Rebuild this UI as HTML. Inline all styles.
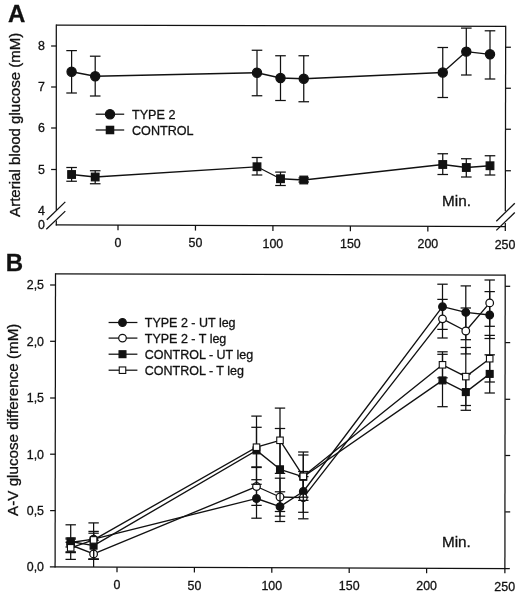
<!DOCTYPE html>
<html><head><meta charset="utf-8"><title>Figure</title>
<style>
html,body{margin:0;padding:0;background:#fff}
svg{display:block;font-family:"Liberation Sans",Arial,Helvetica,sans-serif;fill:#111}
text{stroke:#111;stroke-width:0.3px}
</style></head>
<body>
<svg width="520" height="595" viewBox="0 0 520 595">
<rect x="0" y="0" width="520" height="595" fill="#fff" stroke="none"/>
<line x1="56.20" y1="25.10" x2="505.70" y2="26.40" stroke="#111" stroke-width="1.25" stroke-linecap="butt"/>
<line x1="56.30" y1="24.48" x2="56.30" y2="210.30" stroke="#111" stroke-width="1.25" stroke-linecap="butt"/>
<line x1="56.30" y1="220.60" x2="56.30" y2="225.43" stroke="#111" stroke-width="1.25" stroke-linecap="butt"/>
<line x1="55.80" y1="224.80" x2="505.70" y2="226.70" stroke="#111" stroke-width="1.25" stroke-linecap="butt"/>
<line x1="505.70" y1="25.77" x2="505.30" y2="211.30" stroke="#111" stroke-width="1.25" stroke-linecap="butt"/>
<line x1="505.30" y1="222.90" x2="505.30" y2="231.00" stroke="#111" stroke-width="1.25" stroke-linecap="butt"/>
<line x1="46.80" y1="219.80" x2="65.30" y2="201.90" stroke="#111" stroke-width="1.25" stroke-linecap="butt"/>
<line x1="46.30" y1="229.20" x2="65.30" y2="211.10" stroke="#111" stroke-width="1.25" stroke-linecap="butt"/>
<line x1="496.30" y1="221.20" x2="514.80" y2="203.30" stroke="#111" stroke-width="1.25" stroke-linecap="butt"/>
<line x1="496.30" y1="230.40" x2="514.80" y2="212.50" stroke="#111" stroke-width="1.25" stroke-linecap="butt"/>
<line x1="51.10" y1="46.00" x2="56.30" y2="46.00" stroke="#111" stroke-width="1.25" stroke-linecap="butt"/>
<line x1="505.70" y1="47.25" x2="510.90" y2="47.25" stroke="#111" stroke-width="1.25" stroke-linecap="butt"/>
<text x="44.90" y="50.30" font-size="12.4" text-anchor="end" font-weight="normal" >8</text>
<line x1="51.10" y1="87.00" x2="56.30" y2="87.00" stroke="#111" stroke-width="1.25" stroke-linecap="butt"/>
<line x1="505.70" y1="88.25" x2="510.90" y2="88.25" stroke="#111" stroke-width="1.25" stroke-linecap="butt"/>
<text x="44.90" y="91.30" font-size="12.4" text-anchor="end" font-weight="normal" >7</text>
<line x1="51.10" y1="128.00" x2="56.30" y2="128.00" stroke="#111" stroke-width="1.25" stroke-linecap="butt"/>
<line x1="505.70" y1="129.25" x2="510.90" y2="129.25" stroke="#111" stroke-width="1.25" stroke-linecap="butt"/>
<text x="44.90" y="132.30" font-size="12.4" text-anchor="end" font-weight="normal" >6</text>
<line x1="51.10" y1="169.50" x2="56.30" y2="169.50" stroke="#111" stroke-width="1.25" stroke-linecap="butt"/>
<line x1="505.70" y1="170.75" x2="510.90" y2="170.75" stroke="#111" stroke-width="1.25" stroke-linecap="butt"/>
<text x="44.90" y="173.80" font-size="12.4" text-anchor="end" font-weight="normal" >5</text>
<text x="44.90" y="214.90" font-size="12.4" text-anchor="end" font-weight="normal" >4</text>
<text x="44.90" y="228.90" font-size="12.4" text-anchor="end" font-weight="normal" >0</text>
<line x1="118.00" y1="225.06" x2="118.00" y2="230.26" stroke="#111" stroke-width="1.25" stroke-linecap="butt"/>
<text x="118.00" y="247.16" font-size="12.4" text-anchor="middle" font-weight="normal" >0</text>
<line x1="195.46" y1="225.39" x2="195.46" y2="230.59" stroke="#111" stroke-width="1.25" stroke-linecap="butt"/>
<text x="195.46" y="247.49" font-size="12.4" text-anchor="middle" font-weight="normal" >50</text>
<line x1="272.92" y1="225.72" x2="272.92" y2="230.92" stroke="#111" stroke-width="1.25" stroke-linecap="butt"/>
<text x="272.92" y="247.82" font-size="12.4" text-anchor="middle" font-weight="normal" >100</text>
<line x1="350.38" y1="226.04" x2="350.38" y2="231.24" stroke="#111" stroke-width="1.25" stroke-linecap="butt"/>
<text x="350.38" y="248.14" font-size="12.4" text-anchor="middle" font-weight="normal" >150</text>
<line x1="427.84" y1="226.37" x2="427.84" y2="231.57" stroke="#111" stroke-width="1.25" stroke-linecap="butt"/>
<text x="427.84" y="248.47" font-size="12.4" text-anchor="middle" font-weight="normal" >200</text>
<text x="505.00" y="248.80" font-size="12.4" text-anchor="middle" font-weight="normal" >250</text>
<line x1="71.60" y1="50.60" x2="71.60" y2="93.00" stroke="#111" stroke-width="1.25" stroke-linecap="butt"/>
<line x1="66.30" y1="50.60" x2="76.90" y2="50.60" stroke="#111" stroke-width="1.25" stroke-linecap="butt"/>
<line x1="66.30" y1="93.00" x2="76.90" y2="93.00" stroke="#111" stroke-width="1.25" stroke-linecap="butt"/>
<line x1="95.20" y1="56.20" x2="95.20" y2="96.00" stroke="#111" stroke-width="1.25" stroke-linecap="butt"/>
<line x1="89.90" y1="56.20" x2="100.50" y2="56.20" stroke="#111" stroke-width="1.25" stroke-linecap="butt"/>
<line x1="89.90" y1="96.00" x2="100.50" y2="96.00" stroke="#111" stroke-width="1.25" stroke-linecap="butt"/>
<line x1="257.00" y1="50.25" x2="257.00" y2="95.75" stroke="#111" stroke-width="1.25" stroke-linecap="butt"/>
<line x1="251.70" y1="50.25" x2="262.30" y2="50.25" stroke="#111" stroke-width="1.25" stroke-linecap="butt"/>
<line x1="251.70" y1="95.75" x2="262.30" y2="95.75" stroke="#111" stroke-width="1.25" stroke-linecap="butt"/>
<line x1="280.50" y1="55.75" x2="280.50" y2="100.50" stroke="#111" stroke-width="1.25" stroke-linecap="butt"/>
<line x1="275.20" y1="55.75" x2="285.80" y2="55.75" stroke="#111" stroke-width="1.25" stroke-linecap="butt"/>
<line x1="275.20" y1="100.50" x2="285.80" y2="100.50" stroke="#111" stroke-width="1.25" stroke-linecap="butt"/>
<line x1="303.75" y1="55.75" x2="303.75" y2="101.75" stroke="#111" stroke-width="1.25" stroke-linecap="butt"/>
<line x1="298.45" y1="55.75" x2="309.05" y2="55.75" stroke="#111" stroke-width="1.25" stroke-linecap="butt"/>
<line x1="298.45" y1="101.75" x2="309.05" y2="101.75" stroke="#111" stroke-width="1.25" stroke-linecap="butt"/>
<line x1="442.75" y1="47.50" x2="442.75" y2="97.50" stroke="#111" stroke-width="1.25" stroke-linecap="butt"/>
<line x1="437.45" y1="47.50" x2="448.05" y2="47.50" stroke="#111" stroke-width="1.25" stroke-linecap="butt"/>
<line x1="437.45" y1="97.50" x2="448.05" y2="97.50" stroke="#111" stroke-width="1.25" stroke-linecap="butt"/>
<line x1="466.30" y1="28.10" x2="466.30" y2="75.00" stroke="#111" stroke-width="1.25" stroke-linecap="butt"/>
<line x1="461.00" y1="28.10" x2="471.60" y2="28.10" stroke="#111" stroke-width="1.25" stroke-linecap="butt"/>
<line x1="461.00" y1="75.00" x2="471.60" y2="75.00" stroke="#111" stroke-width="1.25" stroke-linecap="butt"/>
<line x1="490.00" y1="30.80" x2="490.00" y2="79.00" stroke="#111" stroke-width="1.25" stroke-linecap="butt"/>
<line x1="484.70" y1="30.80" x2="495.30" y2="30.80" stroke="#111" stroke-width="1.25" stroke-linecap="butt"/>
<line x1="484.70" y1="79.00" x2="495.30" y2="79.00" stroke="#111" stroke-width="1.25" stroke-linecap="butt"/>
<polyline points="71.60,71.75 95.20,76.25 257.00,72.75 280.50,78.00 303.75,78.75 442.75,72.50 466.30,51.60 490.00,54.30" fill="none" stroke="#111" stroke-width="1.35" stroke-linejoin="round"/>
<circle cx="71.60" cy="71.75" r="4.6" fill="#111" stroke="#111" stroke-width="1.25"/>
<circle cx="95.20" cy="76.25" r="4.6" fill="#111" stroke="#111" stroke-width="1.25"/>
<circle cx="257.00" cy="72.75" r="4.6" fill="#111" stroke="#111" stroke-width="1.25"/>
<circle cx="280.50" cy="78.00" r="4.6" fill="#111" stroke="#111" stroke-width="1.25"/>
<circle cx="303.75" cy="78.75" r="4.6" fill="#111" stroke="#111" stroke-width="1.25"/>
<circle cx="442.75" cy="72.50" r="4.6" fill="#111" stroke="#111" stroke-width="1.25"/>
<circle cx="466.30" cy="51.60" r="4.6" fill="#111" stroke="#111" stroke-width="1.25"/>
<circle cx="490.00" cy="54.30" r="4.6" fill="#111" stroke="#111" stroke-width="1.25"/>
<line x1="71.60" y1="167.50" x2="71.60" y2="181.25" stroke="#111" stroke-width="1.25" stroke-linecap="butt"/>
<line x1="66.30" y1="167.50" x2="76.90" y2="167.50" stroke="#111" stroke-width="1.25" stroke-linecap="butt"/>
<line x1="66.30" y1="181.25" x2="76.90" y2="181.25" stroke="#111" stroke-width="1.25" stroke-linecap="butt"/>
<line x1="95.20" y1="170.75" x2="95.20" y2="183.75" stroke="#111" stroke-width="1.25" stroke-linecap="butt"/>
<line x1="89.90" y1="170.75" x2="100.50" y2="170.75" stroke="#111" stroke-width="1.25" stroke-linecap="butt"/>
<line x1="89.90" y1="183.75" x2="100.50" y2="183.75" stroke="#111" stroke-width="1.25" stroke-linecap="butt"/>
<line x1="257.00" y1="157.50" x2="257.00" y2="175.00" stroke="#111" stroke-width="1.25" stroke-linecap="butt"/>
<line x1="251.70" y1="157.50" x2="262.30" y2="157.50" stroke="#111" stroke-width="1.25" stroke-linecap="butt"/>
<line x1="251.70" y1="175.00" x2="262.30" y2="175.00" stroke="#111" stroke-width="1.25" stroke-linecap="butt"/>
<line x1="280.50" y1="172.10" x2="280.50" y2="185.50" stroke="#111" stroke-width="1.25" stroke-linecap="butt"/>
<line x1="275.20" y1="172.10" x2="285.80" y2="172.10" stroke="#111" stroke-width="1.25" stroke-linecap="butt"/>
<line x1="275.20" y1="185.50" x2="285.80" y2="185.50" stroke="#111" stroke-width="1.25" stroke-linecap="butt"/>
<line x1="303.75" y1="178.00" x2="303.75" y2="182.00" stroke="#111" stroke-width="1.25" stroke-linecap="butt"/>
<line x1="298.45" y1="178.00" x2="309.05" y2="178.00" stroke="#111" stroke-width="1.25" stroke-linecap="butt"/>
<line x1="298.45" y1="182.00" x2="309.05" y2="182.00" stroke="#111" stroke-width="1.25" stroke-linecap="butt"/>
<line x1="442.75" y1="153.75" x2="442.75" y2="174.50" stroke="#111" stroke-width="1.25" stroke-linecap="butt"/>
<line x1="437.45" y1="153.75" x2="448.05" y2="153.75" stroke="#111" stroke-width="1.25" stroke-linecap="butt"/>
<line x1="437.45" y1="174.50" x2="448.05" y2="174.50" stroke="#111" stroke-width="1.25" stroke-linecap="butt"/>
<line x1="466.30" y1="158.75" x2="466.30" y2="177.00" stroke="#111" stroke-width="1.25" stroke-linecap="butt"/>
<line x1="461.00" y1="158.75" x2="471.60" y2="158.75" stroke="#111" stroke-width="1.25" stroke-linecap="butt"/>
<line x1="461.00" y1="177.00" x2="471.60" y2="177.00" stroke="#111" stroke-width="1.25" stroke-linecap="butt"/>
<line x1="490.00" y1="155.75" x2="490.00" y2="175.00" stroke="#111" stroke-width="1.25" stroke-linecap="butt"/>
<line x1="484.70" y1="155.75" x2="495.30" y2="155.75" stroke="#111" stroke-width="1.25" stroke-linecap="butt"/>
<line x1="484.70" y1="175.00" x2="495.30" y2="175.00" stroke="#111" stroke-width="1.25" stroke-linecap="butt"/>
<polyline points="71.60,174.50 95.20,177.00 257.00,166.75 280.50,178.75 303.75,180.00 442.75,164.50 466.30,167.50 490.00,165.75" fill="none" stroke="#111" stroke-width="1.35" stroke-linejoin="round"/>
<rect x="67.80" y="170.70" width="7.6" height="7.6" fill="#111" stroke="#111" stroke-width="1.25"/>
<rect x="91.40" y="173.20" width="7.6" height="7.6" fill="#111" stroke="#111" stroke-width="1.25"/>
<rect x="253.20" y="162.95" width="7.6" height="7.6" fill="#111" stroke="#111" stroke-width="1.25"/>
<rect x="276.70" y="174.95" width="7.6" height="7.6" fill="#111" stroke="#111" stroke-width="1.25"/>
<rect x="299.95" y="176.20" width="7.6" height="7.6" fill="#111" stroke="#111" stroke-width="1.25"/>
<rect x="438.95" y="160.70" width="7.6" height="7.6" fill="#111" stroke="#111" stroke-width="1.25"/>
<rect x="462.50" y="163.70" width="7.6" height="7.6" fill="#111" stroke="#111" stroke-width="1.25"/>
<rect x="486.20" y="161.95" width="7.6" height="7.6" fill="#111" stroke="#111" stroke-width="1.25"/>
<line x1="95.70" y1="114.20" x2="124.20" y2="114.20" stroke="#111" stroke-width="1.25" stroke-linecap="butt"/>
<circle cx="110.00" cy="114.20" r="4.6" fill="#111" stroke="#111" stroke-width="1.25"/>
<line x1="95.70" y1="130.00" x2="124.20" y2="130.00" stroke="#111" stroke-width="1.25" stroke-linecap="butt"/>
<rect x="106.35" y="126.35" width="7.3" height="7.3" fill="#111" stroke="#111" stroke-width="1.25"/>
<text x="132.00" y="118.80" font-size="12.6" text-anchor="start" font-weight="normal" >TYPE 2</text>
<text x="132.00" y="134.60" font-size="12.6" text-anchor="start" font-weight="normal" >CONTROL</text>
<text x="442.00" y="206.30" font-size="15.3" text-anchor="start" font-weight="normal" >Min.</text>
<text x="8.00" y="21.60" font-size="24" text-anchor="start" font-weight="bold" >A</text>
<text transform="translate(19.9,216.9) rotate(-90)" font-size="15.2" textLength="184.3" lengthAdjust="spacingAndGlyphs">Arterial blood glucose (mM)</text>
<line x1="55.40" y1="273.80" x2="505.20" y2="275.20" stroke="#111" stroke-width="1.25" stroke-linecap="butt"/>
<line x1="55.50" y1="273.18" x2="55.10" y2="567.62" stroke="#111" stroke-width="1.25" stroke-linecap="butt"/>
<line x1="49.90" y1="566.95" x2="509.80" y2="568.50" stroke="#111" stroke-width="1.25" stroke-linecap="butt"/>
<line x1="505.20" y1="274.57" x2="504.90" y2="573.30" stroke="#111" stroke-width="1.25" stroke-linecap="butt"/>
<line x1="50.10" y1="285.00" x2="55.50" y2="285.00" stroke="#111" stroke-width="1.25" stroke-linecap="butt"/>
<line x1="505.20" y1="286.30" x2="510.20" y2="286.30" stroke="#111" stroke-width="1.25" stroke-linecap="butt"/>
<text x="44.00" y="289.30" font-size="12.4" text-anchor="end" font-weight="normal" >2,5</text>
<line x1="50.10" y1="341.30" x2="55.50" y2="341.30" stroke="#111" stroke-width="1.25" stroke-linecap="butt"/>
<line x1="505.20" y1="342.60" x2="510.20" y2="342.60" stroke="#111" stroke-width="1.25" stroke-linecap="butt"/>
<text x="44.00" y="345.60" font-size="12.4" text-anchor="end" font-weight="normal" >2,0</text>
<line x1="50.10" y1="398.00" x2="55.50" y2="398.00" stroke="#111" stroke-width="1.25" stroke-linecap="butt"/>
<line x1="505.20" y1="399.30" x2="510.20" y2="399.30" stroke="#111" stroke-width="1.25" stroke-linecap="butt"/>
<text x="44.00" y="402.30" font-size="12.4" text-anchor="end" font-weight="normal" >1,5</text>
<line x1="50.10" y1="454.20" x2="55.50" y2="454.20" stroke="#111" stroke-width="1.25" stroke-linecap="butt"/>
<line x1="505.20" y1="455.50" x2="510.20" y2="455.50" stroke="#111" stroke-width="1.25" stroke-linecap="butt"/>
<text x="44.00" y="458.50" font-size="12.4" text-anchor="end" font-weight="normal" >1,0</text>
<line x1="50.10" y1="510.60" x2="55.50" y2="510.60" stroke="#111" stroke-width="1.25" stroke-linecap="butt"/>
<line x1="505.20" y1="511.90" x2="510.20" y2="511.90" stroke="#111" stroke-width="1.25" stroke-linecap="butt"/>
<text x="44.00" y="514.90" font-size="12.4" text-anchor="end" font-weight="normal" >0,5</text>
<text x="44.00" y="571.30" font-size="12.4" text-anchor="end" font-weight="normal" >0,0</text>
<line x1="117.00" y1="567.21" x2="117.00" y2="572.21" stroke="#111" stroke-width="1.25" stroke-linecap="butt"/>
<text x="117.00" y="589.41" font-size="12.4" text-anchor="middle" font-weight="normal" >0</text>
<line x1="194.40" y1="567.46" x2="194.40" y2="572.46" stroke="#111" stroke-width="1.25" stroke-linecap="butt"/>
<text x="194.40" y="589.66" font-size="12.4" text-anchor="middle" font-weight="normal" >50</text>
<line x1="271.80" y1="567.72" x2="271.80" y2="572.72" stroke="#111" stroke-width="1.25" stroke-linecap="butt"/>
<text x="271.80" y="589.92" font-size="12.4" text-anchor="middle" font-weight="normal" >100</text>
<line x1="349.20" y1="567.98" x2="349.20" y2="572.98" stroke="#111" stroke-width="1.25" stroke-linecap="butt"/>
<text x="349.20" y="590.18" font-size="12.4" text-anchor="middle" font-weight="normal" >150</text>
<line x1="426.60" y1="568.24" x2="426.60" y2="573.24" stroke="#111" stroke-width="1.25" stroke-linecap="butt"/>
<text x="426.60" y="590.44" font-size="12.4" text-anchor="middle" font-weight="normal" >200</text>
<text x="504.70" y="590.80" font-size="12.4" text-anchor="middle" font-weight="normal" >250</text>
<line x1="70.70" y1="538.00" x2="70.70" y2="547.00" stroke="#111" stroke-width="1.25" stroke-linecap="butt"/>
<line x1="65.50" y1="538.00" x2="75.90" y2="538.00" stroke="#111" stroke-width="1.25" stroke-linecap="butt"/>
<line x1="65.50" y1="547.00" x2="75.90" y2="547.00" stroke="#111" stroke-width="1.25" stroke-linecap="butt"/>
<line x1="93.60" y1="531.40" x2="93.60" y2="559.20" stroke="#111" stroke-width="1.25" stroke-linecap="butt"/>
<line x1="88.40" y1="531.40" x2="98.80" y2="531.40" stroke="#111" stroke-width="1.25" stroke-linecap="butt"/>
<line x1="88.40" y1="559.20" x2="98.80" y2="559.20" stroke="#111" stroke-width="1.25" stroke-linecap="butt"/>
<line x1="256.50" y1="479.70" x2="256.50" y2="518.20" stroke="#111" stroke-width="1.25" stroke-linecap="butt"/>
<line x1="251.30" y1="479.70" x2="261.70" y2="479.70" stroke="#111" stroke-width="1.25" stroke-linecap="butt"/>
<line x1="251.30" y1="518.20" x2="261.70" y2="518.20" stroke="#111" stroke-width="1.25" stroke-linecap="butt"/>
<line x1="280.00" y1="491.80" x2="280.00" y2="521.50" stroke="#111" stroke-width="1.25" stroke-linecap="butt"/>
<line x1="274.80" y1="491.80" x2="285.20" y2="491.80" stroke="#111" stroke-width="1.25" stroke-linecap="butt"/>
<line x1="274.80" y1="521.50" x2="285.20" y2="521.50" stroke="#111" stroke-width="1.25" stroke-linecap="butt"/>
<line x1="303.30" y1="471.50" x2="303.30" y2="512.30" stroke="#111" stroke-width="1.25" stroke-linecap="butt"/>
<line x1="298.10" y1="471.50" x2="308.50" y2="471.50" stroke="#111" stroke-width="1.25" stroke-linecap="butt"/>
<line x1="298.10" y1="512.30" x2="308.50" y2="512.30" stroke="#111" stroke-width="1.25" stroke-linecap="butt"/>
<line x1="442.50" y1="284.20" x2="442.50" y2="329.40" stroke="#111" stroke-width="1.25" stroke-linecap="butt"/>
<line x1="437.30" y1="284.20" x2="447.70" y2="284.20" stroke="#111" stroke-width="1.25" stroke-linecap="butt"/>
<line x1="437.30" y1="329.40" x2="447.70" y2="329.40" stroke="#111" stroke-width="1.25" stroke-linecap="butt"/>
<line x1="465.80" y1="285.90" x2="465.80" y2="339.70" stroke="#111" stroke-width="1.25" stroke-linecap="butt"/>
<line x1="460.60" y1="285.90" x2="471.00" y2="285.90" stroke="#111" stroke-width="1.25" stroke-linecap="butt"/>
<line x1="460.60" y1="339.70" x2="471.00" y2="339.70" stroke="#111" stroke-width="1.25" stroke-linecap="butt"/>
<line x1="489.70" y1="291.60" x2="489.70" y2="338.50" stroke="#111" stroke-width="1.25" stroke-linecap="butt"/>
<line x1="484.50" y1="291.60" x2="494.90" y2="291.60" stroke="#111" stroke-width="1.25" stroke-linecap="butt"/>
<line x1="484.50" y1="338.50" x2="494.90" y2="338.50" stroke="#111" stroke-width="1.25" stroke-linecap="butt"/>
<polyline points="70.70,542.50 93.60,539.20 256.50,498.50 280.00,506.60 303.30,491.50 442.50,306.70 465.80,312.40 489.70,315.00" fill="none" stroke="#111" stroke-width="1.35" stroke-linejoin="round"/>
<circle cx="70.70" cy="542.50" r="3.8" fill="#111" stroke="#111" stroke-width="1.25"/>
<circle cx="93.60" cy="539.20" r="3.8" fill="#111" stroke="#111" stroke-width="1.25"/>
<circle cx="256.50" cy="498.50" r="3.8" fill="#111" stroke="#111" stroke-width="1.25"/>
<circle cx="280.00" cy="506.60" r="3.8" fill="#111" stroke="#111" stroke-width="1.25"/>
<circle cx="303.30" cy="491.50" r="3.8" fill="#111" stroke="#111" stroke-width="1.25"/>
<circle cx="442.50" cy="306.70" r="3.8" fill="#111" stroke="#111" stroke-width="1.25"/>
<circle cx="465.80" cy="312.40" r="3.8" fill="#111" stroke="#111" stroke-width="1.25"/>
<circle cx="489.70" cy="315.00" r="3.8" fill="#111" stroke="#111" stroke-width="1.25"/>
<line x1="70.70" y1="539.10" x2="70.70" y2="551.80" stroke="#111" stroke-width="1.25" stroke-linecap="butt"/>
<line x1="65.50" y1="539.10" x2="75.90" y2="539.10" stroke="#111" stroke-width="1.25" stroke-linecap="butt"/>
<line x1="65.50" y1="551.80" x2="75.90" y2="551.80" stroke="#111" stroke-width="1.25" stroke-linecap="butt"/>
<line x1="93.60" y1="540.20" x2="93.60" y2="567.00" stroke="#111" stroke-width="1.25" stroke-linecap="butt"/>
<line x1="88.40" y1="540.20" x2="98.80" y2="540.20" stroke="#111" stroke-width="1.25" stroke-linecap="butt"/>
<line x1="256.50" y1="467.50" x2="256.50" y2="505.40" stroke="#111" stroke-width="1.25" stroke-linecap="butt"/>
<line x1="251.30" y1="467.50" x2="261.70" y2="467.50" stroke="#111" stroke-width="1.25" stroke-linecap="butt"/>
<line x1="251.30" y1="505.40" x2="261.70" y2="505.40" stroke="#111" stroke-width="1.25" stroke-linecap="butt"/>
<line x1="280.00" y1="478.20" x2="280.00" y2="516.20" stroke="#111" stroke-width="1.25" stroke-linecap="butt"/>
<line x1="274.80" y1="478.20" x2="285.20" y2="478.20" stroke="#111" stroke-width="1.25" stroke-linecap="butt"/>
<line x1="274.80" y1="516.20" x2="285.20" y2="516.20" stroke="#111" stroke-width="1.25" stroke-linecap="butt"/>
<line x1="303.30" y1="476.60" x2="303.30" y2="518.80" stroke="#111" stroke-width="1.25" stroke-linecap="butt"/>
<line x1="298.10" y1="476.60" x2="308.50" y2="476.60" stroke="#111" stroke-width="1.25" stroke-linecap="butt"/>
<line x1="298.10" y1="518.80" x2="308.50" y2="518.80" stroke="#111" stroke-width="1.25" stroke-linecap="butt"/>
<line x1="442.50" y1="299.40" x2="442.50" y2="338.00" stroke="#111" stroke-width="1.25" stroke-linecap="butt"/>
<line x1="437.30" y1="299.40" x2="447.70" y2="299.40" stroke="#111" stroke-width="1.25" stroke-linecap="butt"/>
<line x1="437.30" y1="338.00" x2="447.70" y2="338.00" stroke="#111" stroke-width="1.25" stroke-linecap="butt"/>
<line x1="465.80" y1="308.00" x2="465.80" y2="353.90" stroke="#111" stroke-width="1.25" stroke-linecap="butt"/>
<line x1="460.60" y1="308.00" x2="471.00" y2="308.00" stroke="#111" stroke-width="1.25" stroke-linecap="butt"/>
<line x1="460.60" y1="353.90" x2="471.00" y2="353.90" stroke="#111" stroke-width="1.25" stroke-linecap="butt"/>
<line x1="489.70" y1="280.00" x2="489.70" y2="326.30" stroke="#111" stroke-width="1.25" stroke-linecap="butt"/>
<line x1="484.50" y1="280.00" x2="494.90" y2="280.00" stroke="#111" stroke-width="1.25" stroke-linecap="butt"/>
<line x1="484.50" y1="326.30" x2="494.90" y2="326.30" stroke="#111" stroke-width="1.25" stroke-linecap="butt"/>
<polyline points="70.70,545.00 93.60,553.90 256.50,486.50 280.00,497.00 303.30,497.70 442.50,318.80 465.80,331.00 489.70,302.90" fill="none" stroke="#111" stroke-width="1.35" stroke-linejoin="round"/>
<circle cx="70.70" cy="545.00" r="3.8" fill="#fff" stroke="#111" stroke-width="1.25"/>
<circle cx="93.60" cy="553.90" r="3.8" fill="#fff" stroke="#111" stroke-width="1.25"/>
<circle cx="256.50" cy="486.50" r="3.8" fill="#fff" stroke="#111" stroke-width="1.25"/>
<circle cx="280.00" cy="497.00" r="3.8" fill="#fff" stroke="#111" stroke-width="1.25"/>
<circle cx="303.30" cy="497.70" r="3.8" fill="#fff" stroke="#111" stroke-width="1.25"/>
<circle cx="442.50" cy="318.80" r="3.8" fill="#fff" stroke="#111" stroke-width="1.25"/>
<circle cx="465.80" cy="331.00" r="3.8" fill="#fff" stroke="#111" stroke-width="1.25"/>
<circle cx="489.70" cy="302.90" r="3.8" fill="#fff" stroke="#111" stroke-width="1.25"/>
<line x1="70.70" y1="524.80" x2="70.70" y2="559.40" stroke="#111" stroke-width="1.25" stroke-linecap="butt"/>
<line x1="65.50" y1="524.80" x2="75.90" y2="524.80" stroke="#111" stroke-width="1.25" stroke-linecap="butt"/>
<line x1="65.50" y1="559.40" x2="75.90" y2="559.40" stroke="#111" stroke-width="1.25" stroke-linecap="butt"/>
<line x1="93.60" y1="533.20" x2="93.60" y2="559.20" stroke="#111" stroke-width="1.25" stroke-linecap="butt"/>
<line x1="88.40" y1="533.20" x2="98.80" y2="533.20" stroke="#111" stroke-width="1.25" stroke-linecap="butt"/>
<line x1="88.40" y1="559.20" x2="98.80" y2="559.20" stroke="#111" stroke-width="1.25" stroke-linecap="butt"/>
<line x1="256.50" y1="416.10" x2="256.50" y2="484.30" stroke="#111" stroke-width="1.25" stroke-linecap="butt"/>
<line x1="251.30" y1="416.10" x2="261.70" y2="416.10" stroke="#111" stroke-width="1.25" stroke-linecap="butt"/>
<line x1="251.30" y1="484.30" x2="261.70" y2="484.30" stroke="#111" stroke-width="1.25" stroke-linecap="butt"/>
<line x1="280.00" y1="428.50" x2="280.00" y2="511.50" stroke="#111" stroke-width="1.25" stroke-linecap="butt"/>
<line x1="274.80" y1="428.50" x2="285.20" y2="428.50" stroke="#111" stroke-width="1.25" stroke-linecap="butt"/>
<line x1="274.80" y1="511.50" x2="285.20" y2="511.50" stroke="#111" stroke-width="1.25" stroke-linecap="butt"/>
<line x1="303.30" y1="455.00" x2="303.30" y2="497.20" stroke="#111" stroke-width="1.25" stroke-linecap="butt"/>
<line x1="298.10" y1="455.00" x2="308.50" y2="455.00" stroke="#111" stroke-width="1.25" stroke-linecap="butt"/>
<line x1="298.10" y1="497.20" x2="308.50" y2="497.20" stroke="#111" stroke-width="1.25" stroke-linecap="butt"/>
<line x1="442.50" y1="354.30" x2="442.50" y2="406.70" stroke="#111" stroke-width="1.25" stroke-linecap="butt"/>
<line x1="437.30" y1="354.30" x2="447.70" y2="354.30" stroke="#111" stroke-width="1.25" stroke-linecap="butt"/>
<line x1="437.30" y1="406.70" x2="447.70" y2="406.70" stroke="#111" stroke-width="1.25" stroke-linecap="butt"/>
<line x1="465.80" y1="373.90" x2="465.80" y2="410.30" stroke="#111" stroke-width="1.25" stroke-linecap="butt"/>
<line x1="460.60" y1="373.90" x2="471.00" y2="373.90" stroke="#111" stroke-width="1.25" stroke-linecap="butt"/>
<line x1="460.60" y1="410.30" x2="471.00" y2="410.30" stroke="#111" stroke-width="1.25" stroke-linecap="butt"/>
<line x1="489.70" y1="354.80" x2="489.70" y2="393.00" stroke="#111" stroke-width="1.25" stroke-linecap="butt"/>
<line x1="484.50" y1="354.80" x2="494.90" y2="354.80" stroke="#111" stroke-width="1.25" stroke-linecap="butt"/>
<line x1="484.50" y1="393.00" x2="494.90" y2="393.00" stroke="#111" stroke-width="1.25" stroke-linecap="butt"/>
<polyline points="70.70,541.50 93.60,545.70 256.50,450.40 280.00,469.30 303.30,476.80 442.50,380.40 465.80,392.10 489.70,373.90" fill="none" stroke="#111" stroke-width="1.35" stroke-linejoin="round"/>
<rect x="67.30" y="538.10" width="6.8" height="6.8" fill="#111" stroke="#111" stroke-width="1.25"/>
<rect x="90.20" y="542.30" width="6.8" height="6.8" fill="#111" stroke="#111" stroke-width="1.25"/>
<rect x="253.10" y="447.00" width="6.8" height="6.8" fill="#111" stroke="#111" stroke-width="1.25"/>
<rect x="276.60" y="465.90" width="6.8" height="6.8" fill="#111" stroke="#111" stroke-width="1.25"/>
<rect x="299.90" y="473.40" width="6.8" height="6.8" fill="#111" stroke="#111" stroke-width="1.25"/>
<rect x="439.10" y="377.00" width="6.8" height="6.8" fill="#111" stroke="#111" stroke-width="1.25"/>
<rect x="462.40" y="388.70" width="6.8" height="6.8" fill="#111" stroke="#111" stroke-width="1.25"/>
<rect x="486.30" y="370.50" width="6.8" height="6.8" fill="#111" stroke="#111" stroke-width="1.25"/>
<line x1="70.70" y1="542.30" x2="70.70" y2="552.60" stroke="#111" stroke-width="1.25" stroke-linecap="butt"/>
<line x1="65.50" y1="542.30" x2="75.90" y2="542.30" stroke="#111" stroke-width="1.25" stroke-linecap="butt"/>
<line x1="65.50" y1="552.60" x2="75.90" y2="552.60" stroke="#111" stroke-width="1.25" stroke-linecap="butt"/>
<line x1="93.60" y1="522.90" x2="93.60" y2="559.20" stroke="#111" stroke-width="1.25" stroke-linecap="butt"/>
<line x1="88.40" y1="522.90" x2="98.80" y2="522.90" stroke="#111" stroke-width="1.25" stroke-linecap="butt"/>
<line x1="88.40" y1="559.20" x2="98.80" y2="559.20" stroke="#111" stroke-width="1.25" stroke-linecap="butt"/>
<line x1="256.50" y1="427.30" x2="256.50" y2="466.90" stroke="#111" stroke-width="1.25" stroke-linecap="butt"/>
<line x1="251.30" y1="427.30" x2="261.70" y2="427.30" stroke="#111" stroke-width="1.25" stroke-linecap="butt"/>
<line x1="251.30" y1="466.90" x2="261.70" y2="466.90" stroke="#111" stroke-width="1.25" stroke-linecap="butt"/>
<line x1="280.00" y1="408.10" x2="280.00" y2="473.40" stroke="#111" stroke-width="1.25" stroke-linecap="butt"/>
<line x1="274.80" y1="408.10" x2="285.20" y2="408.10" stroke="#111" stroke-width="1.25" stroke-linecap="butt"/>
<line x1="274.80" y1="473.40" x2="285.20" y2="473.40" stroke="#111" stroke-width="1.25" stroke-linecap="butt"/>
<line x1="303.30" y1="452.00" x2="303.30" y2="500.40" stroke="#111" stroke-width="1.25" stroke-linecap="butt"/>
<line x1="298.10" y1="452.00" x2="308.50" y2="452.00" stroke="#111" stroke-width="1.25" stroke-linecap="butt"/>
<line x1="298.10" y1="500.40" x2="308.50" y2="500.40" stroke="#111" stroke-width="1.25" stroke-linecap="butt"/>
<line x1="442.50" y1="351.80" x2="442.50" y2="377.80" stroke="#111" stroke-width="1.25" stroke-linecap="butt"/>
<line x1="437.30" y1="351.80" x2="447.70" y2="351.80" stroke="#111" stroke-width="1.25" stroke-linecap="butt"/>
<line x1="437.30" y1="377.80" x2="447.70" y2="377.80" stroke="#111" stroke-width="1.25" stroke-linecap="butt"/>
<line x1="465.80" y1="347.50" x2="465.80" y2="405.50" stroke="#111" stroke-width="1.25" stroke-linecap="butt"/>
<line x1="460.60" y1="347.50" x2="471.00" y2="347.50" stroke="#111" stroke-width="1.25" stroke-linecap="butt"/>
<line x1="460.60" y1="405.50" x2="471.00" y2="405.50" stroke="#111" stroke-width="1.25" stroke-linecap="butt"/>
<line x1="489.70" y1="335.40" x2="489.70" y2="382.00" stroke="#111" stroke-width="1.25" stroke-linecap="butt"/>
<line x1="484.50" y1="335.40" x2="494.90" y2="335.40" stroke="#111" stroke-width="1.25" stroke-linecap="butt"/>
<line x1="484.50" y1="382.00" x2="494.90" y2="382.00" stroke="#111" stroke-width="1.25" stroke-linecap="butt"/>
<polyline points="70.70,547.80 93.60,539.90 256.50,447.20 280.00,440.30 303.30,476.30 442.50,364.80 465.80,376.60 489.70,358.70" fill="none" stroke="#111" stroke-width="1.35" stroke-linejoin="round"/>
<rect x="67.45" y="544.55" width="6.5" height="6.5" fill="#fff" stroke="#111" stroke-width="1.1"/>
<rect x="90.35" y="536.65" width="6.5" height="6.5" fill="#fff" stroke="#111" stroke-width="1.1"/>
<rect x="253.25" y="443.95" width="6.5" height="6.5" fill="#fff" stroke="#111" stroke-width="1.1"/>
<rect x="276.75" y="437.05" width="6.5" height="6.5" fill="#fff" stroke="#111" stroke-width="1.1"/>
<rect x="300.05" y="473.05" width="6.5" height="6.5" fill="#fff" stroke="#111" stroke-width="1.1"/>
<rect x="439.25" y="361.55" width="6.5" height="6.5" fill="#fff" stroke="#111" stroke-width="1.1"/>
<rect x="462.55" y="373.35" width="6.5" height="6.5" fill="#fff" stroke="#111" stroke-width="1.1"/>
<rect x="486.45" y="355.45" width="6.5" height="6.5" fill="#fff" stroke="#111" stroke-width="1.1"/>
<line x1="108.60" y1="322.50" x2="137.40" y2="322.50" stroke="#111" stroke-width="1.25" stroke-linecap="butt"/>
<line x1="108.60" y1="338.10" x2="137.40" y2="338.10" stroke="#111" stroke-width="1.25" stroke-linecap="butt"/>
<line x1="108.60" y1="354.20" x2="137.40" y2="354.20" stroke="#111" stroke-width="1.25" stroke-linecap="butt"/>
<line x1="108.60" y1="370.20" x2="137.40" y2="370.20" stroke="#111" stroke-width="1.25" stroke-linecap="butt"/>
<circle cx="122.50" cy="322.50" r="3.8" fill="#111" stroke="#111" stroke-width="1.25"/>
<circle cx="122.50" cy="338.10" r="3.8" fill="#fff" stroke="#111" stroke-width="1.25"/>
<rect x="119.10" y="350.80" width="6.8" height="6.8" fill="#111" stroke="#111" stroke-width="1.25"/>
<rect x="119.25" y="366.95" width="6.5" height="6.5" fill="#fff" stroke="#111" stroke-width="1.1"/>
<text x="144.80" y="326.90" font-size="12.5" text-anchor="start" font-weight="normal" >TYPE 2 - UT leg</text>
<text x="144.80" y="342.50" font-size="12.5" text-anchor="start" font-weight="normal" >TYPE 2 - T leg</text>
<text x="144.80" y="358.60" font-size="12.5" text-anchor="start" font-weight="normal" >CONTROL - UT leg</text>
<text x="144.80" y="374.60" font-size="12.5" text-anchor="start" font-weight="normal" >CONTROL - T leg</text>
<text x="441.90" y="547.40" font-size="15.3" text-anchor="start" font-weight="normal" >Min.</text>
<text x="5.80" y="271.00" font-size="24" text-anchor="start" font-weight="bold" >B</text>
<text transform="translate(18.1,515.9) rotate(-90)" font-size="15.1" textLength="192.3" lengthAdjust="spacingAndGlyphs">A-V glucose difference (mM)</text>
</svg>
</body></html>
